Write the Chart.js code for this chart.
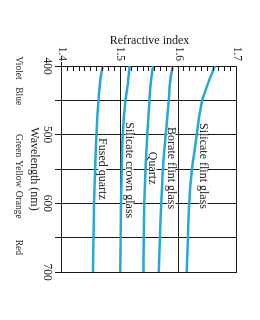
<!DOCTYPE html>
<html>
<head>
<meta charset="utf-8">
<script src="https://cdn.jsdelivr.net/npm/chart.js@4"></script>
<style>
  html, body { margin: 0; padding: 0; background: #fff; overflow: hidden; }
  #wrap {
    position: absolute; left: 0; top: 0; width: 320px; height: 260px;
    transform-origin: 0 0;
    transform: translate(260px, 0) rotate(90deg);
  }
</style>
</head>
<body>
<div id="wrap"><canvas id="myChart" width="320" height="260"></canvas></div>
<script>
const wavelengths = [400, 425, 450, 500, 550, 600, 650, 700];

const fusedQuartz   = [1.470, 1.465, 1.4625, 1.459, 1.457, 1.455, 1.454, 1.453];
const crownGlass    = [1.516, 1.513, 1.509, 1.504, 1.5025, 1.501, 1.5005, 1.500];
const quartz        = [1.556, 1.552, 1.550, 1.546, 1.543, 1.541, 1.540, 1.5395];
const borateFlint   = [1.590, 1.585, 1.583, 1.578, 1.573, 1.570, 1.568, 1.566];
const silicateFlint = [1.662, 1.6505, 1.6405, 1.631, 1.623, 1.618, 1.616, 1.614];

const seriesNames = ["Fused quartz", "Silicate crown glass", "Quartz", "Borate flint glass", "Silicate flint glass"];
const seriesValues = [fusedQuartz, crownGlass, quartz, borateFlint, silicateFlint];

// where each name sits: start wavelength, refractive index
const labelStart = [505, 482, 525, 489, 483];
const labelIndex = [1.469, 1.5157, 1.555, 1.5877, 1.6426];

const colorNames = ["Violet", "Blue", "Green", "Yellow", "Orange", "Red"];
const colorAt    = [403, 444, 516, 557, 602, 664];

const serif = "'Liberation Serif', 'Times New Roman', serif";
const ink = "#1a1a1a";
const lineBlue = "#27a6da";

const datasets = seriesValues.map((vals, i) => ({
  label: seriesNames[i],
  data: wavelengths.map((w, j) => ({ x: w, y: vals[j] })),
  borderColor: lineBlue,
  borderWidth: 2.5,
  fill: false,
  pointRadius: 0,
  cubicInterpolationMode: "monotone",
  xAxisID: "x",
  yAxisID: "y",
}));

// names of the curves, with a white gap in the grid under them
const curveNames = {
  id: "curveNames",
  beforeDatasetsDraw(chart) {
    const ctx = chart.ctx;
    const xs = chart.scales.x;
    const ys = chart.scales.y;
    ctx.save();
    ctx.font = "12px " + serif;
    ctx.textAlign = "left";
    ctx.textBaseline = "middle";
    seriesNames.forEach((name, i) => {
      const px = xs.getPixelForValue(labelStart[i]);
      const py = ys.getPixelForValue(labelIndex[i]);
      const w = ctx.measureText(name).width;
      ctx.fillStyle = "#fff";
      ctx.fillRect(px - 1, py - 4, w + 2, 8);
      ctx.fillStyle = "#222";
      ctx.fillText(name, px, py);
    });
    ctx.restore();
  },
};

// small ticks every 0.01 along the 400 nm edge
const minorTicks = {
  id: "minorTicks",
  afterDraw(chart) {
    const ctx = chart.ctx;
    const ys = chart.scales.y;
    const left = chart.chartArea.left;
    ctx.save();
    ctx.strokeStyle = ink;
    ctx.lineWidth = 1;
    ctx.beginPath();
    for (let i = 1; i < 30; i++) {
      if (i % 10 === 0) continue;
      const py = Math.round(ys.getPixelForValue(1.4 + i / 100)) + 0.5;
      ctx.moveTo(left, py);
      ctx.lineTo(left + 5, py);
    }
    ctx.stroke();
    ctx.restore();
  },
};

new Chart("myChart", {
  type: "line",
  data: { datasets: datasets },
  options: {
    responsive: false,
    animation: false,
    layout: { padding: { left: 0, top: 23, right: 48, bottom: 0 }, autoPadding: false },
    plugins: { legend: { display: false }, tooltip: { enabled: false } },
    scales: {
      x: {
        type: "linear",
        position: "bottom",
        weight: 0,
        min: 400,
        max: 700,
        ticks: {
          stepSize: 50,
          padding: 1,
          autoSkip: false,
          maxRotation: 0,
          color: "#222",
          font: { family: serif, size: 11.5 },
          callback: (v) => (v % 100 === 0 ? String(v) : ""),
        },
        grid: { color: ink, lineWidth: 1, tickLength: 7, tickColor: ink },
        border: { color: ink },
        title: {
          display: true,
          text: "Wavelength (nm)",
          color: "#222",
          font: { family: serif, size: 12 },
          padding: { top: 0, bottom: 1 },
        },
        afterFit: (s) => {
          s.height = 36;
          s.paddingLeft = 0;
          s.paddingRight = 0;
        },
      },
      colors: {
        type: "linear",
        position: "bottom",
        weight: 1,
        min: 400,
        max: 700,
        afterBuildTicks: (s) => {
          s.ticks = colorAt.map((v) => ({ value: v }));
        },
        ticks: {
          padding: 2,
          autoSkip: false,
          maxRotation: 0,
          color: "#2a2a2a",
          font: { family: serif, size: 9.5 },
          callback: (v, i) => colorNames[i],
        },
        grid: { display: false, drawTicks: false },
        border: { display: false },
        afterFit: (s) => {
          s.height = 26;
          s.paddingLeft = 0;
          s.paddingRight = 0;
        },
      },
      y: {
        type: "linear",
        position: "left",
        min: 1.4,
        max: 1.7,
        ticks: {
          stepSize: 0.1,
          padding: 1,
          color: "#222",
          font: { family: serif, size: 11.5 },
        },
        grid: {
          color: ink,
          lineWidth: 1,
          tickLength: 4,
          tickColor: (c) => (c.tick && Math.abs(c.tick.value - 1.4) < 1e-6 ? ink : "rgba(0,0,0,0)"),
        },
        border: { color: ink },
        title: {
          display: true,
          text: "Refractive index",
          color: "#222",
          font: { family: serif, size: 12 },
          padding: { top: 34, bottom: 0 },
        },
        afterFit: (s) => {
          s.width = 66;
          s.paddingTop = 0;
          s.paddingBottom = 0;
        },
      },
    },
  },
  plugins: [curveNames, minorTicks],
});
</script>
</body>
</html>
